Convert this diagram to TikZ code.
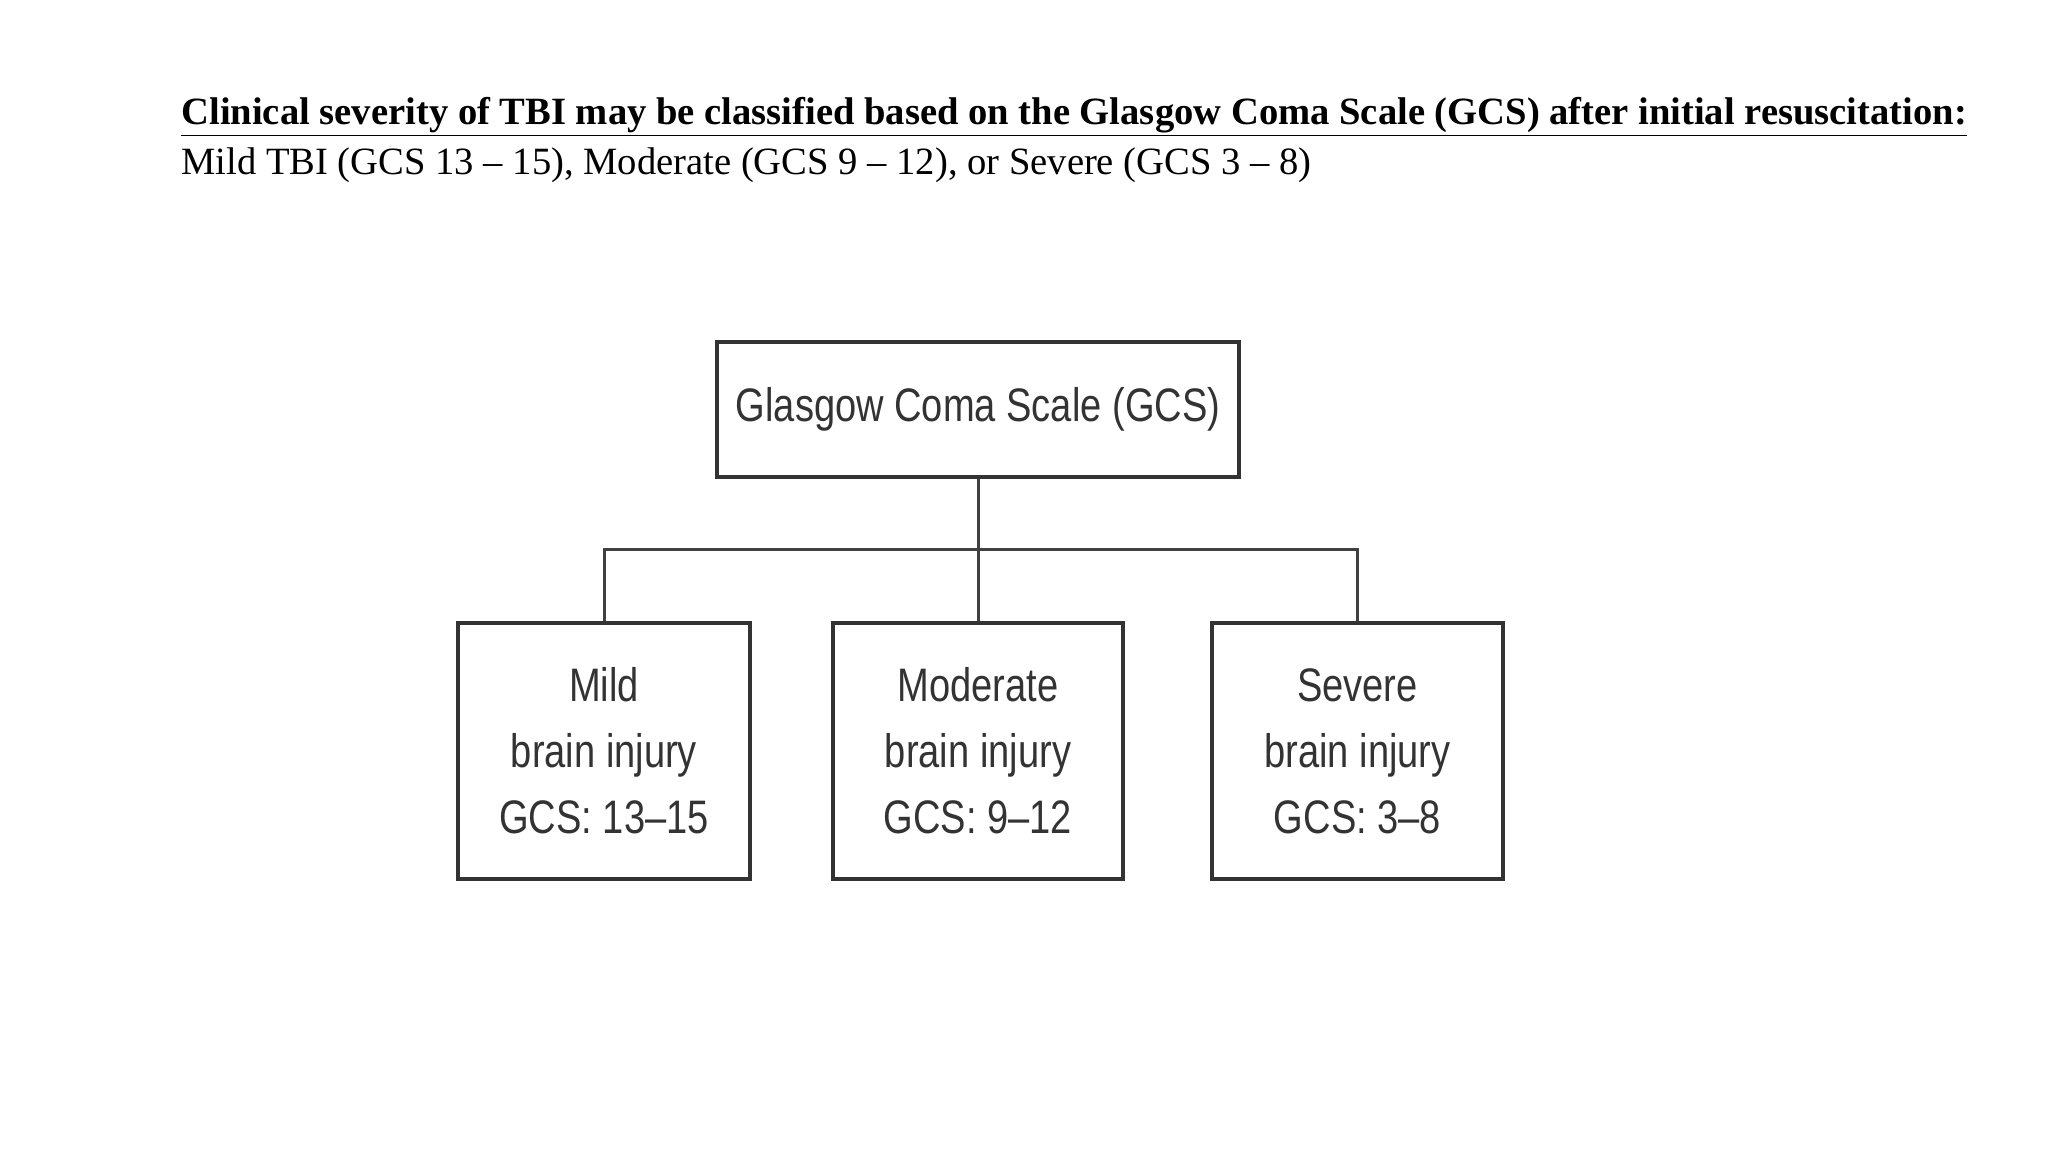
\documentclass[tikz,border=0pt]{standalone}
\usepackage{fontspec}
\setmainfont{Liberation Serif}
\newfontfamily\narrow{Liberation Sans}[FakeStretch=0.81]
\begin{document}
\begin{tikzpicture}[x=0.5pt,y=-0.5pt,
  box/.style={draw=black!80,line width=1.6pt,inner sep=0pt,font=\narrow\fontsize{23.5}{33}\selectfont,text=black!80,align=center},
  conn/.style={draw=black!75,line width=1.5pt}]
\useasboundingbox (0,0) rectangle (2048,1152);
\node[anchor=base west,inner sep=0pt,font=\bfseries\fontsize{19.3}{22}\selectfont] (t1) at (181,124) {\underline{Clinical severity of TBI may be classified based on the Glasgow Coma Scale (GCS) after initial resuscitation:}};
\node[anchor=base west,inner sep=0pt,font=\fontsize{19.3}{22}\selectfont] (t2) at (181,174) {Mild TBI (GCS 13 \textendash\ 15), Moderate (GCS 9 \textendash\ 12), or Severe (GCS 3 \textendash\ 8)};
\node[box,minimum width=261pt,minimum height=67.5pt] (top) at (978,409.5) {Glasgow Coma Scale (GCS)};
\node[box,minimum width=146pt,minimum height=128pt] (a) at (604,751) {Mild\\brain injury\\GCS: 13\textendash15};
\node[box,minimum width=145pt,minimum height=128pt] (b) at (978,751) {Moderate\\brain injury\\GCS: 9\textendash12};
\node[box,minimum width=145.5pt,minimum height=128pt] (c) at (1357.5,751) {Severe\\brain injury\\GCS: 3\textendash8};
\coordinate (j) at (978,549);
\draw[conn] (top.south) -- (b.north);
\draw[conn] (a.north) |- (j) -| (c.north);
\end{tikzpicture}
\end{document}
